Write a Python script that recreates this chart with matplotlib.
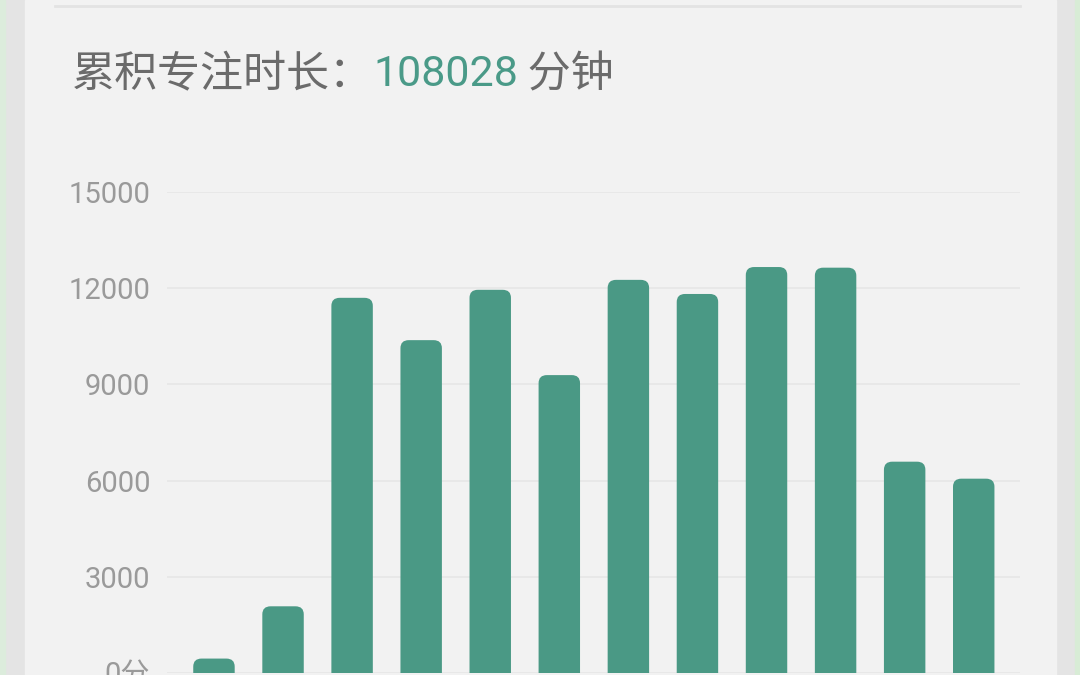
import matplotlib
matplotlib.use('Agg')
import matplotlib.pyplot as plt
from matplotlib.patches import FancyBboxPatch, Rectangle
from matplotlib.lines import Line2D

plt.rcParams['font.family'] = ['Noto Sans CJK SC', 'DejaVu Sans']

# 每月专注分钟数 (12根柱)
months = list(range(12))
minutes = [450, 2080, 11700, 10380, 11950, 9290, 12260, 11820, 12660, 12640, 6590, 6060]
yticks = [0, 3000, 6000, 9000, 12000, 15000]
ytick_labels = ['0分', '3000', '6000', '9000', '12000', '15000']
title_label = '累积专注时长：'
total_text = '108028'
unit_text = ' 分钟'

bar_color = '#4a9985'
card_color = '#f2f2f2'

fig = plt.figure(figsize=(10.8, 6.75), dpi=100)
fig.patch.set_facecolor('#e4e4e4')

# 卡片背景和边缘
fig.add_artist(Rectangle((0, 0), 0.005, 1, transform=fig.transFigure, color='#dcecdc', zorder=0))
fig.add_artist(Rectangle((0.995, 0), 0.005, 1, transform=fig.transFigure, color='#d8ecd6', zorder=0))
fig.add_artist(Rectangle((25 / 1080, 0), (1056 - 25) / 1080, 1, transform=fig.transFigure,
                         color=card_color, zorder=0))
fig.add_artist(Line2D([55 / 1080, 1020 / 1080], [1 - 6 / 675, 1 - 6 / 675], transform=fig.transFigure,
                      color='#e3e3e3', lw=2, zorder=1))

# 标题
ty = 1 - 75 / 675
fig.text(72 / 1080, ty, title_label, fontsize=31, color='#6b6b6b', va='center', ha='left')
fig.canvas.draw()
r = fig.canvas.get_renderer()
x_end = fig.texts[0].get_window_extent(r).x1 / 1080
t2 = fig.text(x_end, ty, total_text, fontsize=31, color='#4a9a88', va='center', ha='left',
              family=['Roboto', 'Noto Sans CJK SC'])
x_end2 = t2.get_window_extent(r).x1 / 1080
fig.text(x_end2, ty, unit_text, fontsize=31, color='#6b6b6b', va='center', ha='left')

# 柱状图
ax = fig.add_axes([167 / 1080, 2 / 675, (1020 - 167) / 1080, (673 - 192) / 675])
ax.set_facecolor('none')
bars = ax.bar(months, minutes, width=0.6, color=bar_color)
ax.set_xlim(-0.68, 11.67)
ax.set_ylim(0, 15000)

# 圆角柱子
ry = 250
rx = 0.12
for b in bars:
    x, y = b.get_xy()
    w, h = b.get_width(), b.get_height()
    b.set_visible(False)
    p = FancyBboxPatch((x, y - ry * 2), w, h + ry * 2,
                       boxstyle='round,pad=0,rounding_size=%f' % rx,
                       mutation_aspect=ry / rx, color=bar_color, lw=0, zorder=3)
    ax.add_patch(p)

ax.set_yticks(yticks)
ax.set_yticklabels(ytick_labels, family=['Roboto', 'Noto Sans CJK SC'])
ax.tick_params(axis='y', length=0, pad=12, labelsize=21, labelcolor='#9a9a9a')
ax.set_xticks([])
ax.yaxis.grid(True, color='#e6e6e6', lw=1.2)
ax.set_axisbelow(True)
for s in ax.spines.values():
    s.set_visible(False)

fig.savefig('out.png', dpi=100, facecolor=fig.get_facecolor())
